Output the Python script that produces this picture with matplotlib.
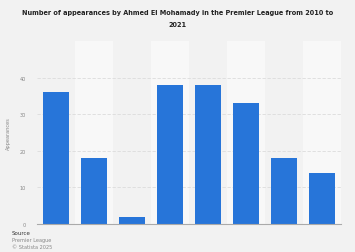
import matplotlib.pyplot as plt

# Appearances per season (season labels not shown in the chart)
seasons = ["2010/11", "2011/12", "2012/13", "2015/16", "2016/17", "2017/18", "2018/19", "2020/21"]
appearances = [36, 18, 2, 38, 38, 33, 18, 14]
yticks = [0, 10, 20, 30, 40]

fig = plt.figure(figsize=(3.55, 2.53), dpi=100)
fig.patch.set_facecolor("#f2f2f2")
ax = fig.add_axes([0.104, 0.111, 0.857, 0.723])
ax.set_facecolor("#f2f2f2")

x = list(range(len(seasons)))
# alternating column bands
for i in x:
    if i % 2 == 1:
        ax.axvspan(i - 0.5, i + 0.5, color="#f8f8f8", zorder=0, lw=0)

ax.bar(x, appearances, width=0.68, color="#2775d9", zorder=3)

ax.set_xlim(-0.5, len(seasons) - 0.5)
ax.set_ylim(0, 50)
ax.set_yticks(yticks)
ax.set_yticklabels([str(t) for t in yticks], fontsize=3.6, color="#888888")
ax.set_xticks([])
ax.tick_params(axis="y", length=0, pad=8)
ax.grid(axis="y", color="#dcdcdc", linestyle=(0, (4, 2)), linewidth=0.6, zorder=1)
for s in ["top", "right", "left"]:
    ax.spines[s].set_visible(False)
ax.spines["bottom"].set_color("#aaaaaa")
ax.spines["bottom"].set_linewidth(0.8)
ax.spines["bottom"].set_zorder(4)

ax.set_ylabel("Appearances", fontsize=3.6, color="#888888", labelpad=6)

fig.text(0.5, 0.96, "Number of appearances by Ahmed El Mohamady in the Premier League from 2010 to\n2021",
         ha="center", va="top", fontsize=4.7, fontweight="bold", color="#222222", linespacing=2.1)

fig.text(0.034, 0.085, "Source", fontsize=4, color="#333333", va="top")
fig.text(0.034, 0.058, "Premier League", fontsize=3.6, color="#888888", va="top")
fig.text(0.034, 0.033, "\u00a9 Statista 2025", fontsize=3.6, color="#888888", va="top")

fig.savefig("out.png", dpi=100, facecolor=fig.get_facecolor())
